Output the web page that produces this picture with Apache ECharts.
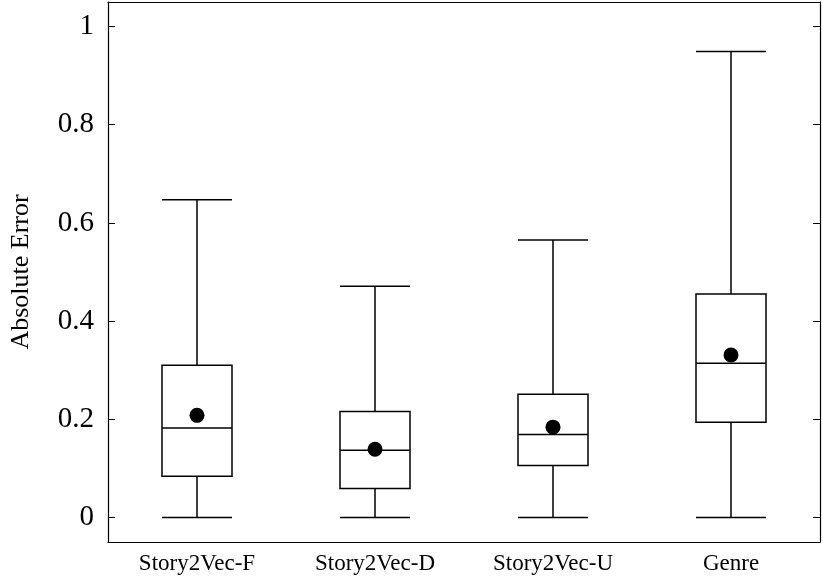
<!DOCTYPE html>
<html><head><meta charset="utf-8">
<script src="https://cdn.jsdelivr.net/npm/echarts@6/dist/echarts.min.js"></script>
<style>html,body{margin:0;padding:0;background:#fff}#c{width:823px;height:583px}</style>
</head><body><div id="c"></div>
<script>
const categories = ['Story2Vec-F','Story2Vec-D','Story2Vec-U','Genre'];
const boxData = [
  [0, 0.084, 0.182, 0.310, 0.647],
  [0, 0.059, 0.137, 0.216, 0.471],
  [0, 0.106, 0.169, 0.251, 0.565],
  [0, 0.194, 0.314, 0.455, 0.949]
];
const means = [0.208, 0.139, 0.184, 0.331];
const yTicks = [0, 0.2, 0.4, 0.6, 0.8, 1];
const font = 'Liberation Serif';
const ch = echarts.init(document.getElementById('c'));
const line = {show:true,onZero:false,lineStyle:{color:'#000',width:1.2}};
const yBase = {type:'value', min:-0.05, max:1.05, splitLine:{show:false}, axisLine:line};
ch.setOption({
  animation:false,
  grid:{left:102,right:3,top:2,bottom:41},
  xAxis:[
    {type:'category',data:categories,axisLine:line,
     axisTick:{show:false},axisLabel:{color:'#000',fontFamily:font,fontSize:23,margin:10}},
    {type:'category',data:categories,position:'top',axisLine:line,
     axisTick:{show:false},axisLabel:{show:false}}
  ],
  yAxis:[
    Object.assign({}, yBase, {position:'left',
      name:'Absolute Error', nameLocation:'middle', nameGap:74,
      nameTextStyle:{color:'#000',fontFamily:font,fontSize:26},
      axisTick:{show:true,inside:true,length:7,customValues:yTicks,lineStyle:{color:'#000'}},
      axisLabel:{color:'#000',fontFamily:font,fontSize:29,margin:14,customValues:yTicks,
        formatter:v=>String(Math.round(v*10)/10)}}),
    Object.assign({}, yBase, {position:'right',
      axisTick:{show:true,inside:true,length:7,customValues:yTicks,lineStyle:{color:'#000'}},
      axisLabel:{show:false}})
  ],
  series:[
    {type:'boxplot',data:boxData,boxWidth:[70,70],
     itemStyle:{color:'#fff',borderColor:'#000',borderWidth:1.5}},
    {type:'scatter',data:means,symbolSize:15,itemStyle:{color:'#000',opacity:1},z:5}
  ]
});
</script></body></html>
